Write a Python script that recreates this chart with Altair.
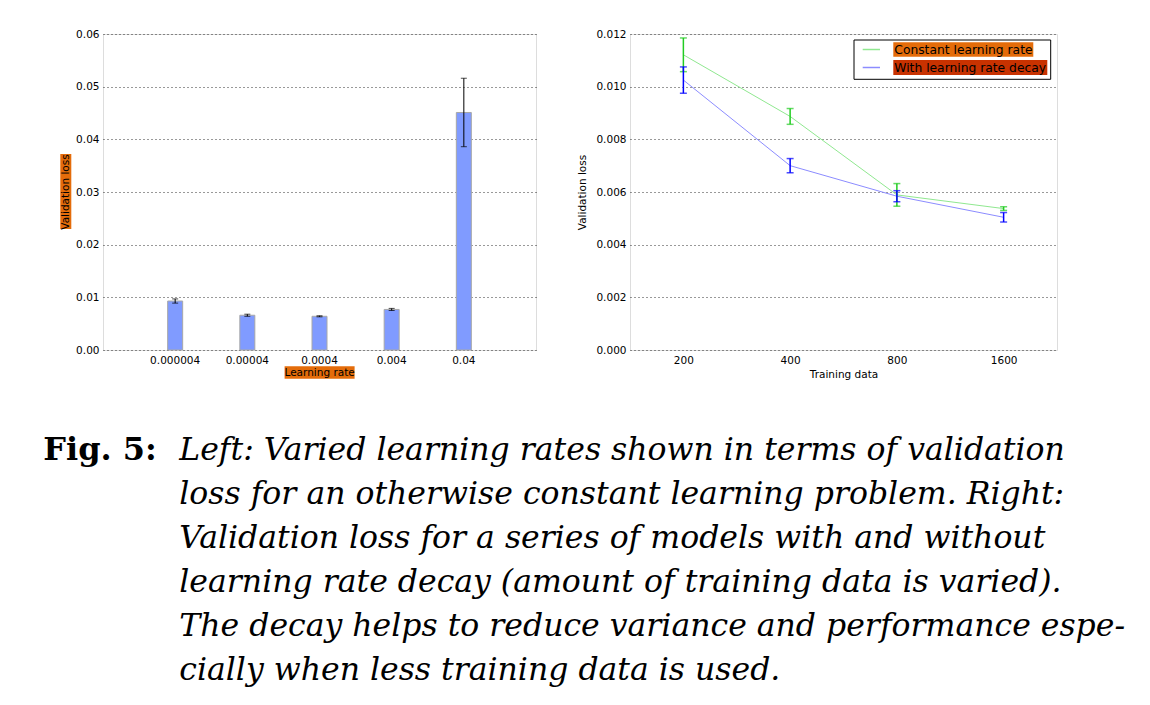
import altair as alt
import pandas as pd

# ---------------- data ----------------
lr_labels = ["0.000004", "0.00004", "0.0004", "0.004", "0.04"]
lr_loss = [0.0093, 0.0066, 0.0064, 0.0077, 0.0451]
lr_err = [0.0004, 0.0002, 0.0001, 0.0002, 0.0065]

train_labels = ["200", "400", "800", "1600"]
series_names = ["Constant learning rate", "With learning rate decay"]
const_loss = [0.01121, 0.00887, 0.00589, 0.00537]
const_err = [0.00064, 0.00030, 0.00043, 0.00007]
decay_loss = [0.01025, 0.00700, 0.00584, 0.00504]
decay_err = [0.00050, 0.00027, 0.00021, 0.00018]

caption_head = "Fig. 5:"
caption_lines = [
    "Left: Varied learning rates shown in terms of validation",
    "loss for an otherwise constant learning problem. Right:",
    "Validation loss for a series of models with and without",
    "learning rate decay (amount of training data is varied).",
    "The decay helps to reduce variance and performance espe-",
    "cially when less training data is used.",
]

# ---------------- styling ----------------
ORANGE = "#e46c0a"
DARKRED = "#c83200"
BAR = "#809bff"
LINE_COLORS = ["#90e890", "#8c8cff"]
ERR_COLORS = ["#22cc22", "#0000ff"]
FONT = "DejaVu Sans"
LABEL_SIZE = 10.5

W_L, H = 433, 316
W_R = 427

lr_df = pd.DataFrame({
    "lr": lr_labels,
    "loss": lr_loss,
    "lo": [v - e for v, e in zip(lr_loss, lr_err)],
    "hi": [v + e for v, e in zip(lr_loss, lr_err)],
})

xl = alt.X("lr:N", sort=lr_labels,
           scale=alt.Scale(type="band", paddingInner=0, paddingOuter=0.5),
           axis=alt.Axis(title=None, labelAngle=0, grid=False, ticks=False,
                         labelPadding=5, domain=False, labelFont=FONT,
                         labelFontSize=LABEL_SIZE, labelColor="black"))
yl_axis = alt.Axis(title=None, format=".2f", values=[0, 0.01, 0.02, 0.03, 0.04, 0.05, 0.06],
                   grid=True, gridDash=[1, 3], gridColor="#000000", gridOpacity=0.8,
                   ticks=False, labelPadding=4, domain=False, labelFont=FONT,
                   labelFontSize=LABEL_SIZE, labelColor="black")
yl_scale = alt.Scale(domain=[0, 0.06], nice=False)

base_l = alt.Chart(lr_df)
bars = base_l.mark_bar(size=15, color=BAR, stroke="#a8a8a8", strokeWidth=1).encode(
    x=xl, y=alt.Y("loss:Q", scale=yl_scale, axis=yl_axis))
erule = base_l.mark_rule(color="black", strokeWidth=1).encode(
    x=alt.X("lr:N", sort=lr_labels), y="lo:Q", y2="hi:Q")
ecap_lo = base_l.mark_tick(color="black", size=6, thickness=1).encode(
    x=alt.X("lr:N", sort=lr_labels), y="lo:Q")
ecap_hi = base_l.mark_tick(color="black", size=6, thickness=1).encode(
    x=alt.X("lr:N", sort=lr_labels), y="hi:Q")

# axis titles with coloured background (annotations)
ann = alt.Chart(pd.DataFrame({"t": ["Validation loss"]}))
ytitle_bg = ann.mark_rect(color=ORANGE).encode(
    x=alt.value(-42.7), x2=alt.value(-31.7), y=alt.value(120), y2=alt.value(195))
ytitle_tx = ann.mark_text(angle=270, font=FONT, fontSize=10.5, color="black",
                          baseline="middle", align="center").encode(
    x=alt.value(-37), y=alt.value(158), text="t:N")
ann2 = alt.Chart(pd.DataFrame({"t": ["Learning rate"]}))
xtitle_bg = ann2.mark_rect(color=ORANGE).encode(
    x=alt.value(181.6), x2=alt.value(251.6), y=alt.value(332.3), y2=alt.value(344.7))
xtitle_tx = ann2.mark_text(font=FONT, fontSize=10.5, color="black",
                           baseline="middle", align="center").encode(
    x=alt.value(216.6), y=alt.value(338.5), text="t:N")

left = alt.layer(bars, erule, ecap_lo, ecap_hi, ytitle_bg, ytitle_tx, xtitle_bg, xtitle_tx
                 ).properties(width=W_L, height=H)

# ---------------- right chart ----------------
rows = []
for s, vals, errs in [(series_names[0], const_loss, const_err),
                      (series_names[1], decay_loss, decay_err)]:
    for t, v, e in zip(train_labels, vals, errs):
        rows.append({"series": s, "n": t, "loss": v, "lo": v - e, "hi": v + e})
tr_df = pd.DataFrame(rows)

xr = alt.X("n:N", sort=train_labels,
           scale=alt.Scale(type="point", padding=0.5),
           axis=alt.Axis(title="Training data", labelAngle=0, grid=False, ticks=False,
                         labelPadding=5, domain=False, titleFont=FONT, titleFontSize=10.5,
                         titleFontWeight="normal", titlePadding=4, labelFont=FONT,
                         labelFontSize=LABEL_SIZE, labelColor="black"))
yr_scale = alt.Scale(domain=[0, 0.012], nice=False)
yr_axis = alt.Axis(title="Validation loss", format=".3f",
                   values=[0, 0.002, 0.004, 0.006, 0.008, 0.010, 0.012],
                   grid=True, gridDash=[1, 3], gridColor="#000000", gridOpacity=0.8,
                   ticks=False, labelPadding=4, domain=False, titleFont=FONT,
                   titleFontSize=10.5, titleFontWeight="normal", titlePadding=8,
                   labelFont=FONT, labelFontSize=LABEL_SIZE, labelColor="black")

base_r = alt.Chart(tr_df)
layers_r = []
for i, name in enumerate(series_names):
    sub = base_r.transform_filter(alt.datum.series == name)
    layers_r.append(sub.mark_line(strokeWidth=1, color=LINE_COLORS[i]).encode(
        x=xr, y=alt.Y("loss:Q", scale=yr_scale, axis=yr_axis)))
for i, name in enumerate(series_names):
    sub = base_r.transform_filter(alt.datum.series == name)
    layers_r.append(sub.mark_rule(strokeWidth=1.5, color=ERR_COLORS[i]).encode(
        x=alt.X("n:N", sort=train_labels), y="lo:Q", y2="hi:Q"))
    layers_r.append(sub.mark_tick(size=7, thickness=1.5, color=ERR_COLORS[i]).encode(
        x=alt.X("n:N", sort=train_labels), y="lo:Q"))
    layers_r.append(sub.mark_tick(size=7, thickness=1.5, color=ERR_COLORS[i]).encode(
        x=alt.X("n:N", sort=train_labels), y="hi:Q"))

# manual legend (labels with coloured backgrounds)
leg = alt.Chart(pd.DataFrame({"a": [0]}))
leg_box = leg.mark_rect(fill="white", stroke="black", strokeWidth=1).encode(
    x=alt.value(224), x2=alt.value(420.7), y=alt.value(6), y2=alt.value(45.3))
leg_layers = [leg_box]
label_bg_colors = [ORANGE, DARKRED]
bg_right = [403.3, 417.3]
bg_y = [(8.3, 22.7), (26.0, 41.0)]
for i, name in enumerate(series_names):
    yc = (bg_y[i][0] + bg_y[i][1]) / 2
    leg_layers.append(leg.mark_rule(color=LINE_COLORS[i], strokeWidth=1.5).encode(
        x=alt.value(232.7), x2=alt.value(250), y=alt.value(yc)))
    leg_layers.append(leg.mark_rect(color=label_bg_colors[i]).encode(
        x=alt.value(263.3), x2=alt.value(bg_right[i]), y=alt.value(bg_y[i][0]),
        y2=alt.value(bg_y[i][1])))
    leg_layers.append(alt.Chart(pd.DataFrame({"t": [name]})).mark_text(
        font=FONT, fontSize=12.3, color="black", align="left", baseline="middle").encode(
        x=alt.value(264.3), y=alt.value(yc + 0.5), text="t:N"))

right = alt.layer(*layers_r, *leg_layers).properties(width=W_R, height=H)

# ---------------- caption ----------------
cap_df = pd.DataFrame({"line": list(range(len(caption_lines))), "t": caption_lines})
cap_text = alt.Chart(cap_df).mark_text(
    font="DejaVu Serif", fontStyle="italic", fontSize=31.5, align="left",
    baseline="alphabetic", color="black").encode(
    x=alt.value(76.3),
    y=alt.Y("line:Q", scale=alt.Scale(domain=[0, 5], range=[0, 220]), axis=None),
    text="t:N")
cap_head = alt.Chart(pd.DataFrame({"t": [caption_head]})).mark_text(
    font="DejaVu Serif", fontWeight="bold", fontSize=32, align="left",
    baseline="alphabetic", color="black").encode(
    x=alt.value(-59.7), y=alt.value(0), text="t:N")
caption = alt.layer(cap_head, cap_text).properties(
    width=1030, height=225, view=alt.ViewBackground(stroke="transparent"))

top = alt.hconcat(left, right, spacing=40)
chart = alt.vconcat(top, caption, spacing=52).properties(
    padding={"left": 42, "top": 28, "right": 0, "bottom": 0}
).configure_view(stroke="black", strokeWidth=1).configure(background="white")

chart.save("out.html", embed_options={"renderer": "svg", "actions": False})
